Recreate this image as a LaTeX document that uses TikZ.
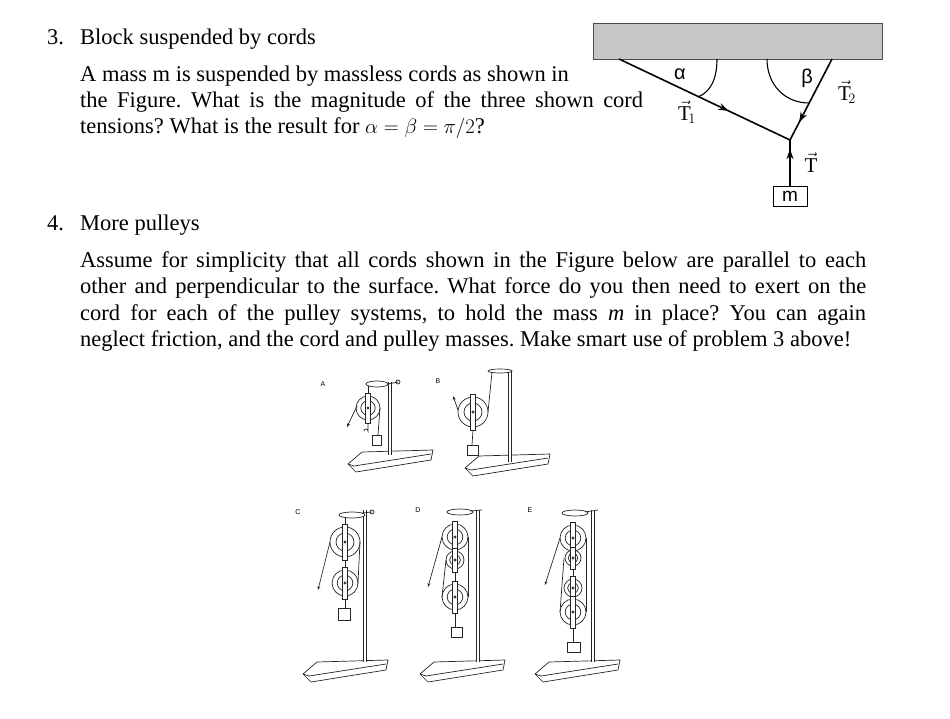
\documentclass[tikz,border=0pt]{standalone}
\usepackage{fontspec}
\setmainfont{Liberation Serif}
\setsansfont{Liberation Sans}
\usetikzlibrary{arrows.meta,decorations.markings}
\frenchspacing
\tikzset{
  txt/.style={anchor=base west,inner sep=0pt,font=\fontsize{22.5}{26}\selectfont},
  cord/.style={line width=1.6pt},
  sk/.style={line width=0.7pt,draw=black!85},
  midarrow/.style={postaction={decorate},decoration={markings,mark=at position #1 with {\arrow{Stealth[length=10pt,width=7pt]}}}},
  lbl/.style={inner sep=0pt,font=\fontsize{21}{21}\selectfont},
  tiny/.style={inner sep=0pt,font=\sffamily\fontsize{7}{7}\selectfont}
}
\newcommand{\pul}[3]{%
  \draw[sk] (#1,#2) circle (#3);
  \draw[sk] (#1,#2) circle ({0.6*#3});
  \draw[sk,fill=white] ({#1-2.5},{#2-#3-3}) rectangle ({#1+2.5},{#2+#3+3});
  \draw[sk] (#1,#2) circle (1.2);}
\newcommand{\basep}[2]{% x of left, y of top
  \draw[sk,fill=white] (#1,{#2+12}) -- ({#1+14},#2) -- ({#1+85},{#2-2}) -- ({#1+83},{#2+8}) -- ({#1+8},{#2+20}) -- cycle;
  \draw[sk] (#1,{#2+12}) -- ({#1+6},{#2+14}) -- ({#1+83},{#2+2});}
\begin{document}
\begin{tikzpicture}[x=1pt,y=-1pt]
\useasboundingbox (0,0) rectangle (950,719);
% ---- text ----
\node[txt] (h3n) at (47,45) {3.};
\node[txt] (h3) at (80,45) {Block suspended by cords};
\node[txt] (p31) at (80,82) {A mass m is suspended by massless cords as shown in};
\node[txt] (p32) at (80,108) {\makebox[563pt][s]{the Figure. What is the magnitude of the three shown cord}};
\node[txt] (p33) at (80,134) {tensions? What is the result for $\alpha=\beta=\pi/2$?};
\node[txt] (h4n) at (47,231) {4.};
\node[txt] (h4) at (80,231) {More pulleys};
\node[txt] (p41) at (80,268) {\makebox[786pt][s]{Assume for simplicity that all cords shown in the Figure below are parallel to each}};
\node[txt] (p42) at (80,294) {\makebox[786pt][s]{other and perpendicular to the surface. What force do you then need to exert on the}};
\node[txt] (p43) at (80,320) {\makebox[786pt][s]{cord for each of the pulley systems, to hold the mass \textit{m} in place? You can again}};
\node[txt] (p44) at (80,346) {neglect friction, and the cord and pulley masses. Make smart use of problem 3 above!};
% ---- force figure ----
\node[draw=black!70,fill=black!22,line width=0.8pt,minimum width=289pt,minimum height=36pt,inner sep=0pt,anchor=north west] (ceil) at (593,23) {};
\coordinate (a1) at (619,59);
\coordinate (a2) at (832,59);
\coordinate (J) at (790,140);
\node[draw,line width=0.6pt,minimum width=34pt,minimum height=20pt,inner sep=0pt,font=\sffamily\fontsize{19}{19}\selectfont] (m) at (790,196) {m};
\draw[cord,midarrow=0.64] (a1) -- (J);
\draw[cord,midarrow=0.78] (a2) -- (J);
\draw[cord,midarrow=0.8] (m.north) -- (J);
\draw[line width=1.1pt] (717,59) .. controls (717,80) and (710,92) .. (698,97);
\draw[line width=1.1pt] (767,59) .. controls (767,85) and (785,103) .. (809,103);
\node[lbl,font=\sffamily\fontsize{20}{20}\selectfont] (al) at (680,74) {α};
\node[lbl,font=\sffamily\fontsize{20}{20}\selectfont] (be) at (807,78) {β};
\node[lbl] (t1) at (687,112) {$\vec{\mathrm{T}}_{\!1}$};
\node[lbl] (t2) at (847,92) {$\vec{\mathrm{T}}_{\!2}$};
\node[lbl] (tt) at (811,163) {$\vec{\mathrm{T}}$};
% ---- stand A ----
\node[tiny] (la) at (323,384) {A};
\basep{348}{452}
\draw[sk,double=white,double distance=2pt] (390,382) -- (390,455);
\draw[sk,fill=white] (377,384) ellipse (11 and 3);
\draw[sk] (388,384) -- (398,382); \draw[sk] (398,382) circle (2);
\draw[sk] (368,386) -- (368,396);
\draw[sk] (380,408) -- (378,435);
\draw[sk,-{Stealth[length=4pt]}] (357,406) -- (347,427);
\pul{368}{408}{12}
\draw[sk] (368,423) -- (368,431) arc (0:-180:2);
\draw[sk,fill=white] (372,435) rectangle (381,445);
% ---- stand B ----
\node[tiny] (lb) at (438,381) {B};
\basep{465}{456}
\draw[sk,double=white,double distance=2pt] (510,370) -- (510,462);
\draw[sk,fill=white] (500,371) ellipse (12 and 2);
\draw[sk] (488,412) -- (492,372);
\draw[sk,-{Stealth[length=4pt]}] (458,410) -- (453,396);
\pul{473}{412}{15}
\draw[sk] (473,430) -- (472,445);
\draw[sk,fill=white] (467,445) rectangle (478,455);
% ---- stand C ----
\node[tiny] (lc) at (298,512) {C};
\basep{303}{662}
\draw[sk,double=white,double distance=2pt] (365,510) -- (365,662);
\draw[sk,fill=white] (352,515) ellipse (13 and 3);
\draw[sk] (362,513) -- (372,512); \draw[sk] (372,512) circle (2);
\draw[sk] (345,518) -- (345,525);
\draw[sk,-{Stealth[length=4pt]}] (330,542) -- (318,590);
\draw[sk] (360,542) -- (358,583);
\pul{345}{542}{15}
\draw[sk] (345,560) -- (345,567);
\pul{345}{583}{13}
\draw[sk] (345,599) -- (345,608);
\draw[sk,fill=white] (338,608) rectangle (350,620);
% ---- stand D ----
\node[tiny] (ld) at (418,510) {D};
\basep{420}{662}
\draw[sk,double=white,double distance=2pt] (478,510) -- (478,662);
\draw[sk,fill=white] (460,512) ellipse (13 and 3);
\draw[sk] (470,511) -- (482,510);
\draw[sk,-{Stealth[length=4pt]}] (442,537) -- (428,587);
\draw[sk] (468,537) -- (468,597);
\draw[sk] (446,560) -- (442,597);
\pul{455}{537}{13}
\pul{455}{560}{9}
\draw[sk] (455,572) -- (455,581);
\pul{455}{597}{13}
\draw[sk] (455,613) -- (455,627);
\draw[sk,fill=white] (451,627) rectangle (462,637);
% ---- stand E ----
\node[tiny] (le) at (530,510) {E};
\basep{535}{662}
\draw[sk,double=white,double distance=2pt] (593,510) -- (593,662);
\draw[sk,fill=white] (575,513) ellipse (13 and 3);
\draw[sk] (585,512) -- (598,510);
\draw[sk,-{Stealth[length=4pt]}] (560,538) -- (545,585);
\draw[sk] (586,538) -- (586,612);
\draw[sk] (564,558) -- (560,612);
\pul{573}{538}{13}
\pul{573}{558}{8}
\draw[sk] (573,569) -- (573,576);
\pul{573}{588}{9}
\pul{573}{612}{13}
\draw[sk] (573,628) -- (573,642);
\draw[sk,fill=white] (567,642) rectangle (580,652);
\end{tikzpicture}
\end{document}
